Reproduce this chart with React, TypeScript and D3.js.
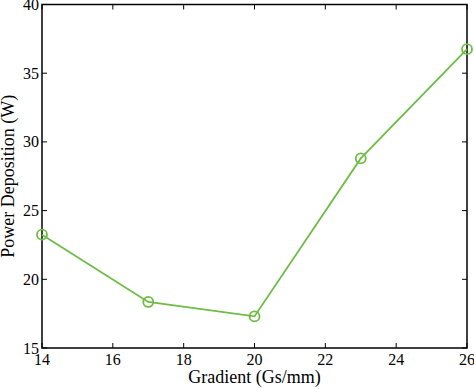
import React from "react";
import * as d3 from "d3";

const gradients = [14, 17, 20, 23, 26];
const powers = [23.25, 18.35, 17.3, 28.8, 36.75];
const xTicks = [14, 16, 18, 20, 22, 24, 26];
const yTicks = [15, 20, 25, 30, 35, 40];

const W = 474, H = 389;
const m = { left: 42, right: 7, top: 4.5, bottom: 41 };
const color = "#6dbd45";
const font = "'Liberation Serif', 'Times New Roman', serif";

export default function App() {
  const x = d3.scaleLinear().domain([14, 26]).range([m.left, W - m.right]);
  const y = d3.scaleLinear().domain([15, 40]).range([H - m.bottom, m.top]);
  const line = d3.line<number>().x((_, i) => x(gradients[i])).y((d) => y(d));
  const pts = powers.map((p, i) => [x(gradients[i]), y(p)]);
  const tl = 5;
  const x0 = x(14), x1 = x(26), y0 = y(15), y1 = y(40);
  return (
    <svg width={W} height={H} style={{ position: "absolute", left: 0, top: 0, background: "#fff" }}>
      <rect x={x0} y={y1} width={x1 - x0} height={y0 - y1} fill="none" stroke="#000" strokeWidth={1.5} />
      {xTicks.map((t) => (
        <g key={"x" + t}>
          <line x1={x(t)} x2={x(t)} y1={y0} y2={y0 - tl} stroke="#000" strokeWidth={1} />
          <line x1={x(t)} x2={x(t)} y1={y1} y2={y1 + tl} stroke="#000" strokeWidth={1} />
          <text x={x(t)} y={y0 + 17} textAnchor="middle" fontFamily={font} fontSize={16} fill="#000">{t}</text>
        </g>
      ))}
      {yTicks.map((t) => (
        <g key={"y" + t}>
          <line x1={x0} x2={x0 + tl} y1={y(t)} y2={y(t)} stroke="#000" strokeWidth={1} />
          <line x1={x1} x2={x1 - tl} y1={y(t)} y2={y(t)} stroke="#000" strokeWidth={1} />
          <text x={x0 - 3} y={y(t) + 5.5} textAnchor="end" fontFamily={font} fontSize={16} fill="#000">{t}</text>
        </g>
      ))}
      <path d={line(powers) || ""} fill="none" stroke={color} strokeWidth={1.8} />
      {pts.map(([cx, cy], i) => (
        <circle key={i} cx={cx} cy={cy} r={5} fill="none" stroke={color} strokeWidth={1.8} />
      ))}
      <text x={(x0 + x1) / 2} y={383} textAnchor="middle" fontFamily={font} fontSize={18} fill="#000">Gradient (Gs/mm)</text>
      <text transform={`translate(14,${(y0 + y1) / 2}) rotate(-90)`} textAnchor="middle" fontFamily={font} fontSize={18} fill="#000">Power Deposition (W)</text>
    </svg>
  );
}
